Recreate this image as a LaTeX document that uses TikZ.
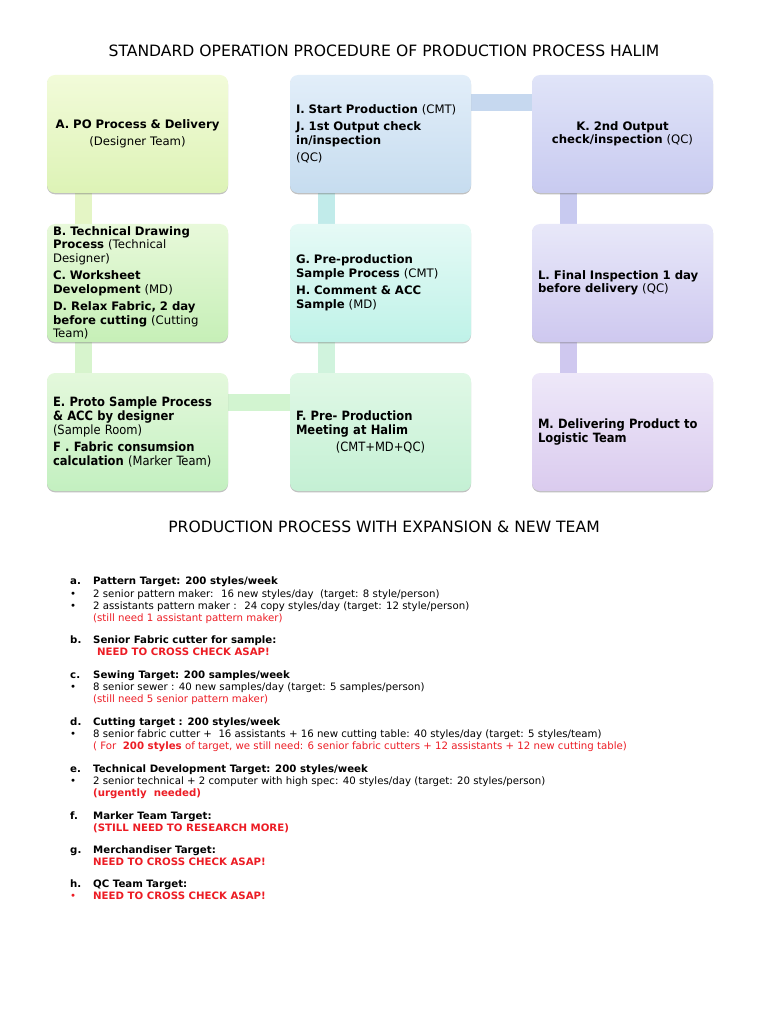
\documentclass[tikz,border=0pt]{standalone}
\usepackage{fontspec}
\setmainfont{DejaVu Sans}
\newfontfamily\condfont{DejaVu Sans Condensed}
\usepackage{tikz}
\usetikzlibrary{shadows,backgrounds}

% box colours, top and bottom of each shading
\definecolor{aTop}{HTML}{F2FBD9}\definecolor{aBot}{HTML}{DDF3B6}
\definecolor{bTop}{HTML}{E8F9DA}\definecolor{bBot}{HTML}{C6EFB7}
\definecolor{eTop}{HTML}{E4F8DC}\definecolor{eBot}{HTML}{C3F0C0}
\definecolor{fTop}{HTML}{E0F8E6}\definecolor{fBot}{HTML}{C4F0D4}
\definecolor{gTop}{HTML}{E6FAF6}\definecolor{gBot}{HTML}{BFF2E8}
\definecolor{iTop}{HTML}{E2EEF9}\definecolor{iBot}{HTML}{C6DCEF}
\definecolor{kTop}{HTML}{E0E4F8}\definecolor{kBot}{HTML}{C8CAF0}
\definecolor{lTop}{HTML}{E8E8F9}\definecolor{lBot}{HTML}{CEC8EF}
\definecolor{mTop}{HTML}{EEE8F9}\definecolor{mBot}{HTML}{DACBEE}
\definecolor{noteRed}{HTML}{EC1C24}

\tikzset{
  stepbox/.style={rounded corners=8pt, minimum width=181pt, minimum height=118pt,
    text width=169pt, inner xsep=6pt, inner ysep=1pt, align=left,
    font=\fontsize{11.7}{13.5}\selectfont,
    drop shadow={shadow xshift=0pt, shadow yshift=-1.3pt, opacity=.45, fill=black!55}},
  narrow/.style={font=\condfont\fontsize{12.8}{13.8}\selectfont},
  bar/.style={line width=17pt, draw=#1},
  listtxt/.style={anchor=base west, inner sep=0pt, font=\fontsize{10.2}{12}\selectfont},
  redtxt/.style={listtxt, text=noteRed},
  heading/.style={inner sep=0pt, font=\fontsize{15.6}{18}\selectfont}
}

\begin{document}
\begin{tikzpicture}[x=1pt,y=1pt]
\useasboundingbox (0,0) rectangle (768,-1024);

% Titles
\node[heading] (title1) at (384,-51) {STANDARD OPERATION PROCEDURE OF PRODUCTION PROCESS HALIM};
\node[heading] (title2) at (384,-527) {PRODUCTION PROCESS WITH EXPANSION \& NEW TEAM};

% Column 1
\node[stepbox, top color=aTop, bottom color=aBot, align=center] (pa) at (137.5,-134)
  {\textbf{A. PO Process \& Delivery}\\[3pt](Designer Team)};
\node[stepbox, top color=bTop, bottom color=bBot] (pb) at (137.5,-283)
  {\textbf{B. Technical Drawing}\\\textbf{Process} (Technical\\Designer)\\[4pt]
   \textbf{C. Worksheet}\\\textbf{Development}  (MD)\\[4pt]
   \textbf{D. Relax Fabric, 2 day}\\\textbf{before cutting} (Cutting\\Team)};
\node[stepbox, narrow, top color=eTop, bottom color=eBot] (pe) at (137.5,-432)
  {\textbf{E. Proto Sample Process}\\\textbf{\& ACC by designer}\\(Sample Room)\\[4pt]
   \textbf{F . Fabric consumsion}\\\textbf{calculation} (Marker Team)};

% Column 2
\node[stepbox, top color=iTop, bottom color=iBot] (pi) at (380.5,-134)
  {\textbf{I. Start Production}  (CMT)\\[4pt]
   \textbf{J. 1st Output check}\\\textbf{in/inspection}\\[4pt](QC)};
\node[stepbox, top color=gTop, bottom color=gBot] (pg) at (380.5,-283)
  {\textbf{G. Pre-production}\\\textbf{Sample Process} (CMT)\\[4pt]
   \textbf{H. Comment \& ACC}\\\textbf{Sample} (MD)};
\node[stepbox, narrow, top color=fTop, bottom color=fBot] (pf) at (380.5,-432)
  {\textbf{F. Pre- Production}\\\textbf{Meeting at Halim}\\[4pt]
   \makebox[169pt][c]{(CMT+MD+QC)}};

% Column 3
\node[stepbox, top color=kTop, bottom color=kBot, align=center] (pk) at (622.5,-134)
  {\textbf{K. 2nd Output}\\\textbf{check/inspection} (QC)};
\node[stepbox, top color=lTop, bottom color=lBot] (pl) at (622.5,-283)
  {\textbf{L. Final Inspection 1 day}\\\textbf{before delivery} (QC)};
\node[stepbox, narrow, top color=mTop, bottom color=mBot] (pm) at (622.5,-432)
  {\textbf{M. Delivering Product to}\\\textbf{Logistic Team}};

% Connecting bars
\begin{scope}[on background layer]
\draw[bar=aBot!80] ([xshift=-54.5pt]pa.south) -- ([xshift=-54.5pt]pb.north);
\draw[bar=bBot!70] ([xshift=-54.5pt]pb.south) -- ([xshift=-54.5pt]pe.north);
\draw[bar=eBot!75] ([yshift=30pt]pe.east) -- ([yshift=30pt]pf.west);
\draw[bar=fBot!80] ([xshift=-54.5pt]pf.north) -- ([xshift=-54.5pt]pg.south);
\draw[bar=gBot!70!iBot] ([xshift=-54.5pt]pg.north) -- ([xshift=-54.5pt]pi.south);
\draw[bar=iBot!80!kBot] ([yshift=31pt]pi.east) -- ([yshift=31pt]pk.west);
\draw[bar=kBot] ([xshift=-54.5pt]pk.south) -- ([xshift=-54.5pt]pl.north);
\draw[bar=lBot!90!mBot] ([xshift=-54.5pt]pl.south) -- ([xshift=-54.5pt]pm.north);
\end{scope}

% Targets list
\node[listtxt] (la) at (70,-584) {\textbf{a.}};
\node[listtxt] (ta) at (93,-584) {\textbf{Pattern Target: 200 styles/week}};
\node[listtxt] (ba1) at (70,-597) {•};
\node[listtxt] (ta1) at (93,-597) {2 senior pattern maker:~ 16 new styles/day~ (target: 8 style/person)};
\node[listtxt] (ba2) at (70,-609) {•};
\node[listtxt] (ta2) at (93,-609) {2 assistants pattern maker :~ 24 copy styles/day (target: 12 style/person)};
\node[redtxt] (ta3) at (93,-621) {(still need 1 assistant pattern maker)};

\node[listtxt] (lb) at (70,-643) {\textbf{b.}};
\node[listtxt] (tb) at (93,-643) {\textbf{Senior Fabric cutter for sample:}};
\node[redtxt] (tb1) at (97,-655) {\textbf{NEED TO CROSS CHECK ASAP!}};

\node[listtxt] (lc) at (70,-678) {\textbf{c.}};
\node[listtxt] (tc) at (93,-678) {\textbf{Sewing Target: 200 samples/week}};
\node[listtxt] (bc1) at (70,-690) {•};
\node[listtxt] (tc1) at (93,-690) {8 senior sewer : 40 new samples/day (target: 5 samples/person)};
\node[redtxt] (tc2) at (93,-702) {(still need 5 senior pattern maker)};

\node[listtxt] (ld) at (70,-725) {\textbf{d.}};
\node[listtxt] (td) at (93,-725) {\textbf{Cutting target : 200 styles/week}};
\node[listtxt] (bd1) at (70,-737) {•};
\node[listtxt] (td1) at (93,-737) {8 senior fabric cutter +~ 16 assistants + 16 new cutting table: 40 styles/day (target: 5 styles/team)};
\node[redtxt] (td2) at (93,-749) {( For~ \textbf{200 styles} of target, we still need: 6 senior fabric cutters + 12 assistants + 12 new cutting table)};

\node[listtxt] (le) at (70,-772) {\textbf{e.}};
\node[listtxt] (te) at (93,-772) {\textbf{Technical Development Target: 200 styles/week}};
\node[listtxt] (be1) at (70,-784) {•};
\node[listtxt] (te1) at (93,-784) {2 senior technical + 2 computer with high spec: 40 styles/day (target: 20 styles/person)};
\node[redtxt] (te2) at (93,-796) {\textbf{(urgently~ needed)}};

\node[listtxt] (lf) at (70,-819) {\textbf{f.}};
\node[listtxt] (tf) at (93,-819) {\textbf{Marker Team Target:}};
\node[redtxt] (tf1) at (93,-831) {\textbf{(STILL NEED TO RESEARCH MORE)}};

\node[listtxt] (lg) at (70,-853) {\textbf{g.}};
\node[listtxt] (tg) at (93,-853) {\textbf{Merchandiser Target:}};
\node[redtxt] (tg1) at (93,-865) {\textbf{NEED TO CROSS CHECK ASAP!}};

\node[listtxt] (lh) at (70,-887) {\textbf{h.}};
\node[listtxt] (th) at (93,-887) {\textbf{QC Team Target:}};
\node[redtxt] (bh1) at (70,-899) {•};
\node[redtxt] (th1) at (93,-899) {\textbf{NEED TO CROSS CHECK ASAP!}};
\end{tikzpicture}
\end{document}
